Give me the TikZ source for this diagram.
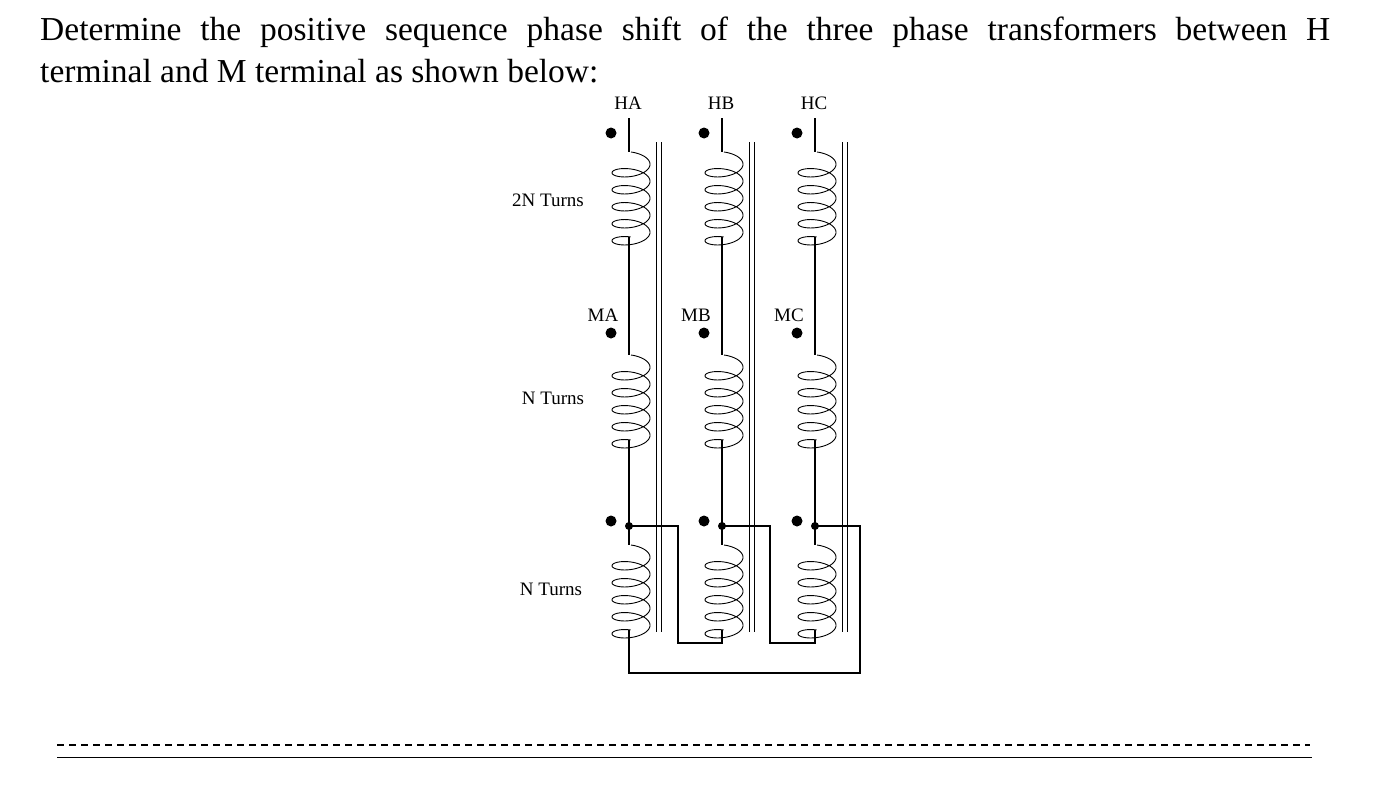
\documentclass[tikz,border=0pt]{standalone}
\usepackage{fontspec}
\setmainfont{Liberation Serif}
\begin{document}
\begin{tikzpicture}[x=1pt,y=-1pt,
  wire/.style={line width=2.2pt},
  core/.style={line width=0.9pt},
  coilst/.style={line width=0.9pt},
  lbl/.style={font=\fontsize{19}{21}\selectfont, inner sep=0pt},
  dotn/.style={circle,fill=black,inner sep=0pt,minimum size=11pt},
  jn/.style={circle,fill=black,inner sep=0pt,minimum size=8pt}]
\useasboundingbox (0,0) rectangle (1380,787);
\node[anchor=north west, text width=1290pt, align=justify, inner sep=0pt,
  font=\fontsize{33.5}{42}\selectfont] (title) at (40,17)
  {Determine the positive sequence phase shift of the three phase transformers between H\linebreak terminal and M terminal as shown below:};
\foreach \cx/\n in {629/A,722/B,815/C}{
  \draw[core] (\cx+27,142) -- (\cx+27,632);
  \draw[core] (\cx+32,142) -- (\cx+32,632);
  \foreach \yy/\k in {152/1,355/2,545/3}{
    \draw[coilst] plot[domain=0:5,samples=300,variable=\t]
      ({\cx+2+19*sin(\t*360)},{\yy+17*\t+8*(1-cos(\t*360))});
  }
  \draw[wire] (\cx,118) -- (\cx,152);
  \draw[wire] (\cx,237) -- (\cx,355);
  \draw[wire] (\cx,440) -- (\cx,545);
  \coordinate (j\n) at (\cx,526);
  \coordinate (b\n) at (\cx,630);
  \node[dotn] (dh\n) at (\cx-18,133) {};
  \node[dotn] (dm\n) at (\cx-18,333) {};
  \node[dotn] (dl\n) at (\cx-18,521) {};
  \node[jn] (jj\n) at (j\n) {};
  \node[lbl] (H\n) at (\cx-1,103) {H\n};
  \node[lbl] (M\n) at (\cx-26,315) {M\n};
}
\draw[wire] (bA) -- (629,673) -- (860,673) -- (860,526) -- (jC);
\draw[wire] (jA) -- (678,526) -- (678,643) -- (722,643) -- (bB);
\draw[wire] (jB) -- (770,526) -- (770,643) -- (815,643) -- (bC);
\node[lbl] (t1) at (548,200) {2N Turns};
\node[lbl] (t2) at (553,398) {N Turns};
\node[lbl] (t3) at (551,589) {N Turns};
\coordinate (d1) at (57,745); \coordinate (d2) at (1310,745);
\draw[line width=2pt, dash pattern=on 7pt off 5pt] (d1) -- (d2);
\coordinate (s1) at (57,757); \coordinate (s2) at (1312,757);
\draw[line width=0.8pt] (s1) -- (s2);
\end{tikzpicture}
\end{document}
